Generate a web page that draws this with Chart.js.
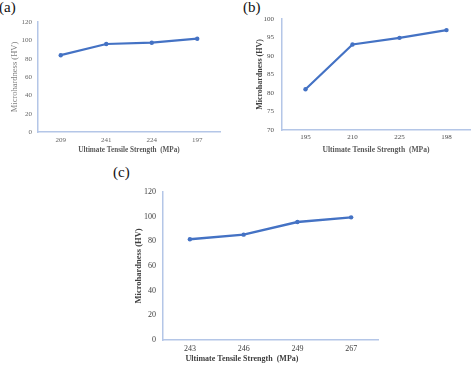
<!DOCTYPE html>
<html>
<head>
<meta charset="utf-8">
<script src="https://cdn.jsdelivr.net/npm/chart.js@4"></script>
<style>
  html, body { margin: 0; padding: 0; background: #fff; }
  body { width: 474px; height: 366px; position: relative; overflow: hidden; }
  .panel { position: absolute; }
  .tag { position: absolute; font-family: "Liberation Serif", "Times New Roman", serif; font-size: 15px; line-height: 15px; color: #111; }
</style>
</head>
<body>
<div class="tag" style="left:-1px;top:0px;">(a)</div>
<div class="tag" style="left:243px;top:0px;">(b)</div>
<div class="tag" style="left:113px;top:165px;">(c)</div>

<div class="panel" style="left:0px;top:0px;width:237px;height:180px;"><canvas id="ca" width="237" height="180"></canvas></div>
<div class="panel" style="left:237px;top:0px;width:237px;height:180px;"><canvas id="cb" width="237" height="180"></canvas></div>
<div class="panel" style="left:102px;top:180px;width:280px;height:186px;"><canvas id="cc" width="280" height="186"></canvas></div>

<script>
// ---- data ----
const labelsA = ['209', '241', '224', '197'];
const valuesA = [83.8, 96, 97.4, 101.8];

const labelsB = ['195', '210', '225', '198'];
const valuesB = [81, 93.1, 94.9, 97];

const labelsC = ['243', '246', '249', '267'];
const valuesC = [81.6, 85.3, 95.5, 99.3];

const yTitle = 'Microhardness (HV)';
const xTitle = 'Ultimate Tensile Strength  (MPa)';

const serif = '"Liberation Serif", "Times New Roman", serif';
const lineBlue = '#4472c4';
const axisColor = '#b4c6e7';

function makeChart(id, labels, values, o) {
  const cfg = {
    type: 'line',
    data: {
      labels: labels,
      datasets: [{
        data: values,
        borderColor: lineBlue,
        backgroundColor: lineBlue,
        borderWidth: o.lw,
        pointRadius: 2.2,
        pointBackgroundColor: lineBlue,
        pointBorderColor: lineBlue,
        pointBorderWidth: 0,
        tension: 0,
        fill: false
      }]
    },
    options: {
      responsive: false,
      animation: false,
      devicePixelRatio: 1,
      layout: { padding: o.pad },
      plugins: {
        legend: { display: false },
        tooltip: { enabled: false },
        title: o.chartTitle || { display: false }
      },
      scales: {
        x: {
          type: 'category',
          offset: true,
          grid: { display: false, drawTicks: false },
          border: { display: true, color: axisColor, width: 1.5 },
          ticks: { padding: o.xTickPad, color: o.tickColor, font: { family: serif, size: o.tickSize } },
          title: o.xScaleTitle || { display: false },
          afterFit: s => { s.height = o.xH; }
        },
        y: {
          min: o.min, max: o.max,
          grid: { display: false, drawTicks: false },
          border: { display: true, color: axisColor, width: 1.5 },
          ticks: { stepSize: o.step, padding: o.yTickPad, color: o.tickColor, font: { family: serif, size: o.tickSize } },
          title: {
            display: true, text: yTitle, color: o.yTitleColor,
            font: { family: serif, size: o.yTitleSize, weight: o.yTitleWeight },
            padding: { top: o.yTitlePad, bottom: 0 }
          },
          afterFit: s => { s.width = o.yW; }
        }
      }
    }
  };
  return new Chart(document.getElementById(id), cfg);
}

makeChart('ca', labelsA, valuesA, {
  lw: 2.2, pad: { top: 22, right: 17, left: 0, bottom: 0 },
  min: 0, max: 120, step: 20,
  yW: 38, xH: 48, tickSize: 7, tickColor: '#666666',
  xTickPad: 4, yTickPad: 6,
  yTitleColor: '#808080', yTitleSize: 8.5, yTitleWeight: 'normal', yTitlePad: 9.9,
  xScaleTitle: { display: true, text: xTitle, color: '#595959',
    font: { family: serif, size: 7.2, weight: 'bold' }, padding: { top: 0, bottom: 25.6 } }
});

makeChart('cb', labelsB, valuesB, {
  lw: 2.2, pad: { top: 19, right: 4, left: 0, bottom: 0 },
  min: 70, max: 100, step: 5,
  yW: 45, xH: 50, tickSize: 7, tickColor: '#4d4d4d',
  xTickPad: 2.8, yTickPad: 8,
  yTitleColor: '#404040', yTitleSize: 8, yTitleWeight: 'bold', yTitlePad: 18.2,
  xScaleTitle: { display: true, text: xTitle, color: '#595959',
    font: { family: serif, size: 7.6, weight: 'bold' }, padding: { top: 0, bottom: 25.4 } }
});

makeChart('cc', labelsC, valuesC, {
  lw: 2.4, pad: { top: 8, right: 0, left: 0, bottom: 0 },
  min: 0, max: 120, step: 20,
  yW: 61, xH: 14, tickSize: 8, tickColor: '#404040',
  xTickPad: 4.2, yTickPad: 7,
  yTitleColor: '#404040', yTitleSize: 8.5, yTitleWeight: 'bold', yTitlePad: 31.9,
  chartTitle: { display: true, position: 'bottom', align: 'center', text: xTitle, color: '#404040',
    font: { family: serif, size: 8, weight: 'bold' }, padding: { top: 0, bottom: 2.4 } }
});
</script>
</body>
</html>
